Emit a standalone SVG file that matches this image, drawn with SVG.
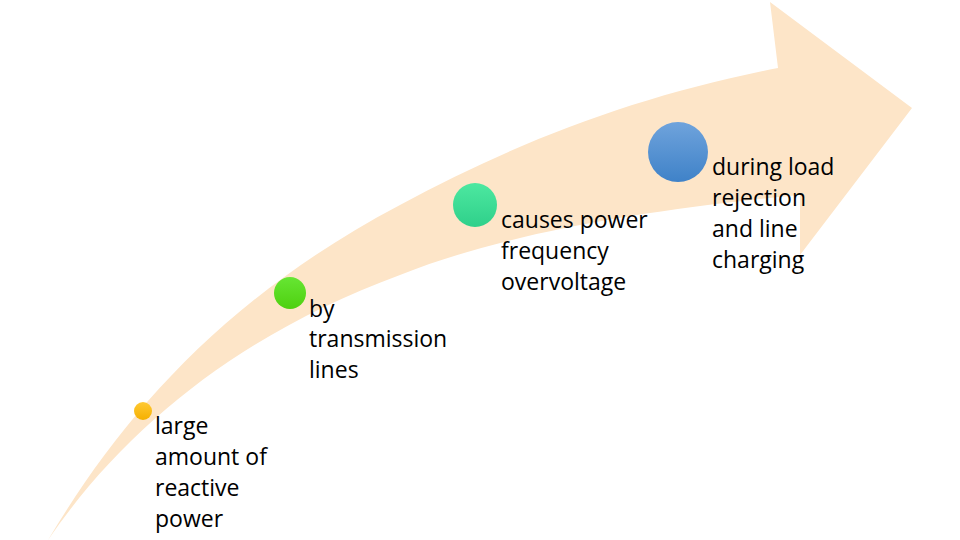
<svg xmlns="http://www.w3.org/2000/svg" width="960" height="540" viewBox="0 0 960 540">
<style>
text{font-family:"Open Sans","Liberation Sans",sans-serif;font-size:23px;fill:#000}
</style>
<defs>
<linearGradient id="gy" x1="0" y1="0" x2="0" y2="1"><stop offset="0" stop-color="#ffc933"/><stop offset="1" stop-color="#f5b000"/></linearGradient>
<linearGradient id="gg" x1="0" y1="0" x2="0" y2="1"><stop offset="0" stop-color="#66e633"/><stop offset="1" stop-color="#4fd010"/></linearGradient>
<linearGradient id="gt" x1="0" y1="0" x2="0" y2="1"><stop offset="0" stop-color="#4de8a0"/><stop offset="1" stop-color="#2fd08a"/></linearGradient>
<linearGradient id="gb" x1="0" y1="0" x2="0" y2="1"><stop offset="0" stop-color="#6fa3dc"/><stop offset="1" stop-color="#3f82c8"/></linearGradient>
</defs>
<rect width="960" height="540" fill="#fff"/>
<g id="arrow">
<path d="M48,540 C120,420 220,300 400,205 C520,140 640,95 778,68 L770,2 L912,108 L800,255 L800,195 C640,210 500,235 400,275 C250,330 130,420 48,540 Z" fill="#fde5c8"/>
</g>
<g id="n1"><circle cx="143" cy="411" r="9" fill="url(#gy)"/>
<text x="155" y="434">large</text><text x="155" y="465">amount of</text><text x="155" y="496">reactive</text><text x="155" y="527">power</text></g>
<g id="n2"><circle cx="290" cy="293" r="16" fill="url(#gg)"/>
<text x="309" y="317">by</text><text x="309" y="347">transmission</text><text x="309" y="378">lines</text></g>
<g id="n3"><circle cx="475" cy="205" r="22" fill="url(#gt)"/>
<text x="501" y="228">causes power</text><text x="501" y="259">frequency</text><text x="501" y="290">overvoltage</text></g>
<g id="n4"><circle cx="678" cy="152" r="30" fill="url(#gb)"/>
<text x="712" y="175">during load</text><text x="712" y="206">rejection</text><text x="712" y="237">and line</text><text x="712" y="268">charging</text></g>
<g id="connectors"/>
</svg>
